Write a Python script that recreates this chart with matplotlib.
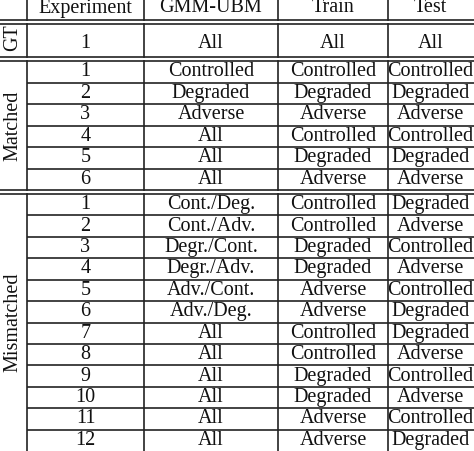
import matplotlib
matplotlib.use("Agg")
import matplotlib.pyplot as plt

headers = ["Experiment", "GMM-UBM", "Train", "Test"]
gt_rows = [["1", "All", "All", "All"]]
matched_rows = [
    ["1", "Controlled", "Controlled", "Controlled"],
    ["2", "Degraded", "Degraded", "Degraded"],
    ["3", "Adverse", "Adverse", "Adverse"],
    ["4", "All", "Controlled", "Controlled"],
    ["5", "All", "Degraded", "Degraded"],
    ["6", "All", "Adverse", "Adverse"],
]
mismatched_rows = [
    ["1", "Cont./Deg.", "Controlled", "Degraded"],
    ["2", "Cont./Adv.", "Controlled", "Adverse"],
    ["3", "Degr./Cont.", "Degraded", "Controlled"],
    ["4", "Degr./Adv.", "Degraded", "Adverse"],
    ["5", "Adv./Cont.", "Adverse", "Controlled"],
    ["6", "Adv./Deg.", "Adverse", "Degraded"],
    ["7", "All", "Controlled", "Degraded"],
    ["8", "All", "Controlled", "Adverse"],
    ["9", "All", "Degraded", "Controlled"],
    ["10", "All", "Degraded", "Adverse"],
    ["11", "All", "Adverse", "Controlled"],
    ["12", "All", "Adverse", "Degraded"],
]
groups = [("GT", gt_rows), ("Matched", matched_rows), ("Mismatched", mismatched_rows)]

W, H = 474, 451
fig = plt.figure(figsize=(W/100, H/100), dpi=100)
ax = fig.add_axes([0, 0, 1, 1])
ax.set_xlim(0, W); ax.set_ylim(H, 0); ax.axis("off")
font = dict(family="Liberation Serif", fontsize=14.5, color="#111")
lc = "#222"; lw = 1.2

colx = [27, 144, 278, 388, 473]
centers = [(colx[i]+colx[i+1])/2 for i in range(4)]

for c, h in zip(centers, headers):
    ax.text(c, 8, h, ha="center", va="center", **font)

def hline(y, x0=0, x1=W):
    ax.plot([x0, x1], [y, y], color=lc, lw=lw, solid_capstyle="butt")

hline(20); hline(24)
spans = [(24, 57), (61, 190), (194, 451)]
for (name, rows), (y0, y1) in zip(groups, spans):
    n = len(rows)
    if name == "GT":
        yc = [44]
    else:
        rh = (y1 - y0) / n
        yc = [y0 + rh*(i+0.5) for i in range(n)]
        for i in range(1, n):
            hline(y0 + rh*i, colx[0], W)
    for y, row in zip(yc, rows):
        for c, t in zip(centers, row):
            ax.text(c, y, t, ha="center", va="center", **font)
    ly = 38 if name == "GT" else (y0+y1)/2
    ax.text(13, ly, name, ha="center", va="center", rotation=90, **font)
hline(57); hline(61); hline(190); hline(194)

for x in colx[:4]:
    for (y0, y1) in [(0, 20)] + spans:
        ax.plot([x, x], [y0, y1], color=lc, lw=lw)

fig.savefig("out.png", dpi=100)
